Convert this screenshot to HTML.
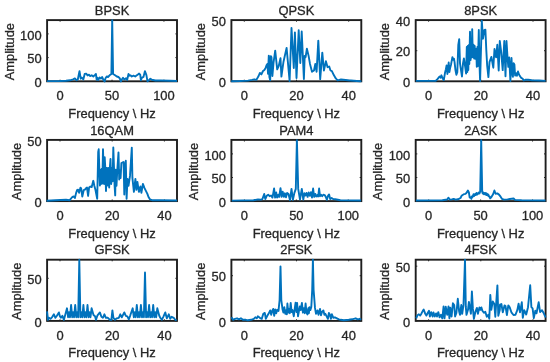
<!DOCTYPE html><html><head><meta charset="utf-8"><style>html,body{margin:0;padding:0;background:#fff;overflow:hidden}svg{display:block}text{font-family:"Liberation Sans",Arial,sans-serif;fill:#262626;stroke:#262626;stroke-width:0.3px}</style></head><body>
<svg width="550" height="362" viewBox="0 0 550 362">
<rect width="550" height="362" fill="#fff"/>
<rect x="47.10" y="20.10" width="129.90" height="61.20" fill="none" stroke="#1e1e1e" stroke-width="1.9"/>
<path d="M60.10 81.30v-1.6M60.10 20.10v1.6" stroke="#262626" stroke-width="1"/>
<text x="60.10" y="100.30" font-size="12.9" text-anchor="middle">0</text>
<path d="M112.02 81.30v-1.6M112.02 20.10v1.6" stroke="#262626" stroke-width="1"/>
<text x="112.02" y="100.30" font-size="12.9" text-anchor="middle">50</text>
<path d="M163.94 81.30v-1.6M163.94 20.10v1.6" stroke="#262626" stroke-width="1"/>
<text x="163.94" y="100.30" font-size="12.9" text-anchor="middle">100</text>
<path d="M47.10 81.30h1.6M177.00 81.30h-1.6" stroke="#262626" stroke-width="1"/>
<text x="41.60" y="86.90" font-size="12.9" text-anchor="end">0</text>
<path d="M47.10 57.60h1.6M177.00 57.60h-1.6" stroke="#262626" stroke-width="1"/>
<text x="41.60" y="63.20" font-size="12.9" text-anchor="end">50</text>
<path d="M47.10 33.90h1.6M177.00 33.90h-1.6" stroke="#262626" stroke-width="1"/>
<text x="41.60" y="39.50" font-size="12.9" text-anchor="end">100</text>
<polyline points="46.8,81.1 60.0,81.0 66.0,80.8 70.0,80.3 73.1,79.3 74.9,78.4 76.4,80.2 77.8,79.5 79.5,71.1 80.7,78.7 81.8,77.6 83.3,79.5 84.7,74.0 86.2,73.6 87.6,75.5 89.1,74.7 90.0,76.1 91.7,75.3 93.3,76.5 95.0,74.9 95.9,74.0 96.7,79.9 97.5,77.8 98.4,79.9 99.6,77.4 100.9,78.6 102.1,77.0 103.4,79.9 104.6,81.4 105.5,78.2 106.7,76.5 108.0,77.0 109.6,75.3 111.4,74.0 112.2,20.1 113.1,74.0 115.1,75.3 116.8,76.5 118.4,77.0 119.7,78.2 120.9,81.4 121.8,79.5 123.0,77.8 124.3,79.5 126.0,78.2 127.2,79.9 128.5,74.0 129.3,75.7 130.6,75.3 131.8,76.5 133.5,75.7 135.2,76.5 136.5,75.5 138.0,74.4 139.1,73.6 140.2,74.7 140.9,80.2 142.0,77.6 143.5,76.9 144.9,71.1 146.4,75.1 147.5,81.3 148.9,80.2 150.4,78.7 151.8,79.8 155.5,80.5 160.5,80.5 170.0,80.8 177.0,81.0" fill="none" stroke="#0072BD" stroke-width="1.9" stroke-linejoin="round"/>
<text x="112.05" y="14.70" font-size="12.9" text-anchor="middle">BPSK</text>
<text x="112.05" y="117.80" font-size="12.9" text-anchor="middle">Frequency \ Hz</text>
<text transform="translate(13.68 51.70) rotate(-90)" x="0" y="0" font-size="12.9" text-anchor="middle">Amplitude</text>
<rect x="231.40" y="20.10" width="129.90" height="61.20" fill="none" stroke="#1e1e1e" stroke-width="1.9"/>
<path d="M244.30 81.30v-1.6M244.30 20.10v1.6" stroke="#262626" stroke-width="1"/>
<text x="244.30" y="100.30" font-size="12.9" text-anchor="middle">0</text>
<path d="M296.50 81.30v-1.6M296.50 20.10v1.6" stroke="#262626" stroke-width="1"/>
<text x="296.50" y="100.30" font-size="12.9" text-anchor="middle">20</text>
<path d="M348.70 81.30v-1.6M348.70 20.10v1.6" stroke="#262626" stroke-width="1"/>
<text x="348.70" y="100.30" font-size="12.9" text-anchor="middle">40</text>
<path d="M231.40 81.30h1.6M361.30 81.30h-1.6" stroke="#262626" stroke-width="1"/>
<text x="225.90" y="86.90" font-size="12.9" text-anchor="end">0</text>
<path d="M231.40 20.10h1.6M361.30 20.10h-1.6" stroke="#262626" stroke-width="1"/>
<text x="225.90" y="25.70" font-size="12.9" text-anchor="end">50</text>
<polyline points="231.2,81.2 240.0,81.0 248.0,80.6 252.0,79.9 254.2,79.3 256.4,79.9 258.6,76.0 259.9,72.9 261.4,74.4 263.0,71.0 264.4,69.9 265.5,68.3 266.6,65.0 267.5,63.9 268.0,73.8 268.8,55.6 269.4,77.1 270.2,80.4 270.8,56.1 271.5,57.2 272.4,76.0 273.5,62.8 275.2,50.6 277.2,69.4 278.7,66.1 280.5,58.3 281.4,76.6 283.5,61.7 286.6,47.9 289.6,81.0 291.5,28.0 293.8,68.0 294.9,32.4 296.5,78.0 298.7,30.2 300.3,63.0 301.7,31.5 303.9,79.0 304.7,55.9 305.6,57.2 306.9,48.6 308.6,55.9 310.0,63.9 312.0,71.8 314.0,70.5 315.3,63.9 316.6,71.8 318.3,40.6 320.2,79.1 322.3,52.6 323.9,70.5 325.9,61.2 327.6,67.2 329.2,66.5 330.5,70.5 331.9,71.1 333.8,75.1 335.8,78.4 337.6,80.3 341.0,79.5 347.9,80.3 359.9,81.2 361.4,81.2" fill="none" stroke="#0072BD" stroke-width="1.9" stroke-linejoin="round"/>
<text x="296.35" y="14.70" font-size="12.9" text-anchor="middle">QPSK</text>
<text x="296.35" y="117.80" font-size="12.9" text-anchor="middle">Frequency \ Hz</text>
<text transform="translate(205.16 51.70) rotate(-90)" x="0" y="0" font-size="12.9" text-anchor="middle">Amplitude</text>
<rect x="415.70" y="20.10" width="129.90" height="61.20" fill="none" stroke="#1e1e1e" stroke-width="1.9"/>
<path d="M428.60 81.30v-1.6M428.60 20.10v1.6" stroke="#262626" stroke-width="1"/>
<text x="428.60" y="100.30" font-size="12.9" text-anchor="middle">0</text>
<path d="M480.80 81.30v-1.6M480.80 20.10v1.6" stroke="#262626" stroke-width="1"/>
<text x="480.80" y="100.30" font-size="12.9" text-anchor="middle">20</text>
<path d="M533.00 81.30v-1.6M533.00 20.10v1.6" stroke="#262626" stroke-width="1"/>
<text x="533.00" y="100.30" font-size="12.9" text-anchor="middle">40</text>
<path d="M415.70 81.30h1.6M545.60 81.30h-1.6" stroke="#262626" stroke-width="1"/>
<text x="410.20" y="86.90" font-size="12.9" text-anchor="end">0</text>
<path d="M415.70 50.70h1.6M545.60 50.70h-1.6" stroke="#262626" stroke-width="1"/>
<text x="410.20" y="56.30" font-size="12.9" text-anchor="end">20</text>
<path d="M415.70 20.10h1.6M545.60 20.10h-1.6" stroke="#262626" stroke-width="1"/>
<text x="410.20" y="25.70" font-size="12.9" text-anchor="end">40</text>
<polyline points="415.8,80.9 425.0,80.9 435.9,80.7 437.7,78.9 439.5,76.5 440.5,77.7 441.4,75.3 442.6,78.3 443.8,80.1 445.0,72.8 445.9,69.2 446.6,65.5 447.4,74.0 448.7,62.5 449.4,72.0 450.2,67.7 451.1,64.2 452.4,57.1 453.3,59.7 454.0,58.8 454.6,62.4 455.5,70.4 456.4,74.8 457.3,72.1 458.3,45.0 459.2,39.1 460.0,63.3 461.3,72.1 462.0,76.5 463.0,63.3 463.9,58.4 465.3,67.7 466.1,73.5 466.8,47.0 467.3,72.0 467.8,46.0 468.3,70.0 468.8,45.0 469.3,64.0 470.0,31.8 470.6,60.0 471.2,45.0 471.7,57.5 472.2,29.1 472.8,57.0 473.5,44.6 474.1,58.5 474.7,46.0 475.3,58.8 476.2,49.0 476.8,66.8 477.4,47.0 477.9,66.0 478.8,30.0 479.3,58.8 480.1,81.0 481.8,20.8 483.0,38.7 484.3,30.2 485.4,29.7 486.3,50.0 487.2,66.0 488.4,77.1 489.5,62.1 491.4,56.9 493.3,67.7 494.5,49.0 496.1,57.4 497.3,44.8 498.7,70.5 499.8,41.0 501.2,52.0 502.7,70.1 504.3,41.0 505.5,76.2 506.5,41.0 507.5,57.4 508.3,66.8 509.2,57.4 510.4,81.0 511.5,58.0 512.2,72.5 512.9,76.9 513.6,63.1 514.4,64.5 515.1,75.5 516.2,73.3 516.9,75.8 518.0,71.5 519.1,74.7 520.9,77.6 522.7,78.7 523.8,80.5 525.3,79.8 528.2,79.8 531.8,80.2 539.1,80.5 545.6,80.9" fill="none" stroke="#0072BD" stroke-width="1.9" stroke-linejoin="round"/>
<text x="480.65" y="14.70" font-size="12.9" text-anchor="middle">8PSK</text>
<text x="480.65" y="117.80" font-size="12.9" text-anchor="middle">Frequency \ Hz</text>
<text transform="translate(389.46 51.70) rotate(-90)" x="0" y="0" font-size="12.9" text-anchor="middle">Amplitude</text>
<rect x="47.10" y="139.90" width="129.90" height="61.20" fill="none" stroke="#1e1e1e" stroke-width="1.9"/>
<path d="M60.00 201.10v-1.6M60.00 139.90v1.6" stroke="#262626" stroke-width="1"/>
<text x="60.00" y="220.10" font-size="12.9" text-anchor="middle">0</text>
<path d="M112.20 201.10v-1.6M112.20 139.90v1.6" stroke="#262626" stroke-width="1"/>
<text x="112.20" y="220.10" font-size="12.9" text-anchor="middle">20</text>
<path d="M164.40 201.10v-1.6M164.40 139.90v1.6" stroke="#262626" stroke-width="1"/>
<text x="164.40" y="220.10" font-size="12.9" text-anchor="middle">40</text>
<path d="M47.10 201.10h1.6M177.00 201.10h-1.6" stroke="#262626" stroke-width="1"/>
<text x="41.60" y="206.70" font-size="12.9" text-anchor="end">0</text>
<path d="M47.10 139.90h1.6M177.00 139.90h-1.6" stroke="#262626" stroke-width="1"/>
<text x="41.60" y="145.50" font-size="12.9" text-anchor="end">50</text>
<polyline points="46.6,200.7 55.5,200.3 66.0,199.8 69.7,200.2 72.3,197.0 73.9,196.5 74.9,198.1 76.0,193.4 77.0,190.2 78.1,189.7 79.1,192.8 80.5,187.6 81.2,188.6 82.3,196.5 83.7,190.2 84.9,189.7 86.2,188.1 87.0,187.6 88.1,196.0 89.1,187.6 90.4,186.5 91.7,187.1 93.3,180.8 94.4,186.0 95.5,190.0 97.2,198.8 98.2,152.0 98.7,149.3 99.3,168.0 99.9,185.5 100.5,170.0 101.0,184.0 101.6,169.0 102.3,183.5 103.0,149.3 103.6,170.0 104.1,184.0 104.7,157.3 105.3,168.0 106.0,191.0 106.7,168.0 107.4,185.5 108.3,167.9 109.2,187.5 109.8,168.0 110.5,159.0 111.2,184.0 111.8,168.0 112.6,181.3 113.3,147.5 114.0,168.0 114.6,185.7 115.2,195.4 115.7,169.7 116.5,185.7 117.3,170.0 118.5,152.4 119.2,179.5 120.1,170.5 120.6,178.0 121.4,163.0 122.5,162.5 123.6,162.1 124.3,194.5 125.0,168.0 125.8,160.8 126.6,198.8 127.5,178.9 128.5,185.9 130.0,175.9 131.8,147.6 132.4,177.9 133.9,191.9 135.4,178.9 136.4,189.9 137.4,181.9 138.9,191.9 140.4,186.4 141.4,192.9 142.9,183.9 144.4,187.9 145.9,190.9 147.4,193.9 148.4,196.8 149.9,199.3 152.8,200.3 159.8,200.3 177.0,200.5" fill="none" stroke="#0072BD" stroke-width="1.9" stroke-linejoin="round"/>
<text x="112.05" y="134.50" font-size="12.9" text-anchor="middle">16QAM</text>
<text x="112.05" y="237.60" font-size="12.9" text-anchor="middle">Frequency \ Hz</text>
<text transform="translate(20.86 171.50) rotate(-90)" x="0" y="0" font-size="12.9" text-anchor="middle">Amplitude</text>
<rect x="231.40" y="139.90" width="129.90" height="61.20" fill="none" stroke="#1e1e1e" stroke-width="1.9"/>
<path d="M244.40 201.10v-1.6M244.40 139.90v1.6" stroke="#262626" stroke-width="1"/>
<text x="244.40" y="220.10" font-size="12.9" text-anchor="middle">0</text>
<path d="M296.32 201.10v-1.6M296.32 139.90v1.6" stroke="#262626" stroke-width="1"/>
<text x="296.32" y="220.10" font-size="12.9" text-anchor="middle">50</text>
<path d="M348.24 201.10v-1.6M348.24 139.90v1.6" stroke="#262626" stroke-width="1"/>
<text x="348.24" y="220.10" font-size="12.9" text-anchor="middle">100</text>
<path d="M231.40 201.10h1.6M361.30 201.10h-1.6" stroke="#262626" stroke-width="1"/>
<text x="225.90" y="206.70" font-size="12.9" text-anchor="end">0</text>
<path d="M231.40 177.50h1.6M361.30 177.50h-1.6" stroke="#262626" stroke-width="1"/>
<text x="225.90" y="183.10" font-size="12.9" text-anchor="end">50</text>
<path d="M231.40 153.90h1.6M361.30 153.90h-1.6" stroke="#262626" stroke-width="1"/>
<text x="225.90" y="159.50" font-size="12.9" text-anchor="end">100</text>
<polyline points="231.8,200.6 253.5,200.3 258.0,199.4 260.9,199.6 262.4,199.1 264.2,194.0 265.3,199.1 266.7,195.8 268.2,194.7 269.6,196.2 271.1,195.5 272.5,197.6 274.1,188.5 275.1,197.6 276.2,192.5 277.1,197.6 278.4,194.7 279.2,196.9 280.5,188.2 281.6,196.9 282.7,191.8 283.8,196.9 284.9,193.3 286.0,197.3 287.1,192.9 288.5,194.0 290.0,200.2 291.5,188.9 292.9,199.8 294.4,192.9 295.8,188.9 296.9,140.1 298.2,188.9 300.0,199.5 301.8,188.9 303.3,199.5 304.4,193.3 305.5,195.5 306.5,192.9 307.6,196.9 308.7,192.5 309.8,195.8 310.9,192.2 312.0,197.6 313.1,188.5 314.2,196.9 315.3,194.0 316.4,196.5 317.5,195.1 318.2,196.5 319.1,188.5 320.0,196.2 321.1,194.7 322.2,196.2 323.3,194.7 324.7,195.1 325.8,196.9 326.9,199.8 328.0,195.8 329.1,194.4 330.2,199.1 331.6,198.0 333.1,199.1 335.3,199.3 340.4,200.2 361.1,200.5" fill="none" stroke="#0072BD" stroke-width="1.9" stroke-linejoin="round"/>
<text x="296.35" y="134.50" font-size="12.9" text-anchor="middle">PAM4</text>
<text x="296.35" y="237.60" font-size="12.9" text-anchor="middle">Frequency \ Hz</text>
<text transform="translate(197.98 171.50) rotate(-90)" x="0" y="0" font-size="12.9" text-anchor="middle">Amplitude</text>
<rect x="415.70" y="139.90" width="129.90" height="61.20" fill="none" stroke="#1e1e1e" stroke-width="1.9"/>
<path d="M428.70 201.10v-1.6M428.70 139.90v1.6" stroke="#262626" stroke-width="1"/>
<text x="428.70" y="220.10" font-size="12.9" text-anchor="middle">0</text>
<path d="M480.62 201.10v-1.6M480.62 139.90v1.6" stroke="#262626" stroke-width="1"/>
<text x="480.62" y="220.10" font-size="12.9" text-anchor="middle">50</text>
<path d="M532.54 201.10v-1.6M532.54 139.90v1.6" stroke="#262626" stroke-width="1"/>
<text x="532.54" y="220.10" font-size="12.9" text-anchor="middle">100</text>
<path d="M415.70 201.10h1.6M545.60 201.10h-1.6" stroke="#262626" stroke-width="1"/>
<text x="410.20" y="206.70" font-size="12.9" text-anchor="end">0</text>
<path d="M415.70 177.50h1.6M545.60 177.50h-1.6" stroke="#262626" stroke-width="1"/>
<text x="410.20" y="183.10" font-size="12.9" text-anchor="end">50</text>
<path d="M415.70 153.90h1.6M545.60 153.90h-1.6" stroke="#262626" stroke-width="1"/>
<text x="410.20" y="159.50" font-size="12.9" text-anchor="end">100</text>
<polyline points="415.9,200.5 442.4,200.3 447.1,199.5 448.5,197.7 449.9,199.6 451.8,199.4 453.7,198.9 455.6,199.6 458.0,199.3 460.5,198.0 461.8,195.5 463.9,194.2 465.5,193.8 466.4,193.0 467.9,190.5 468.9,192.5 469.7,197.6 470.5,197.2 471.4,198.8 472.1,196.2 472.6,197.0 473.5,194.2 474.1,196.0 474.7,195.0 475.4,193.8 476.0,195.0 476.6,193.0 477.2,194.5 478.1,193.8 478.7,192.5 479.5,193.5 480.2,191.7 481.2,140.1 482.2,191.7 482.7,193.5 483.4,192.5 483.9,194.2 484.6,193.0 485.2,194.5 485.8,193.0 486.4,195.0 487.1,193.8 487.7,195.5 488.3,194.5 488.9,196.5 489.6,196.5 490.2,198.4 491.4,197.1 493.1,194.2 494.4,190.5 495.6,193.8 497.3,193.4 499.0,194.6 500.6,196.7 501.9,198.8 504.0,199.6 507.5,199.4 513.6,198.5 515.0,199.9 521.6,200.2 545.5,200.5" fill="none" stroke="#0072BD" stroke-width="1.9" stroke-linejoin="round"/>
<text x="480.65" y="134.50" font-size="12.9" text-anchor="middle">2ASK</text>
<text x="480.65" y="237.60" font-size="12.9" text-anchor="middle">Frequency \ Hz</text>
<text transform="translate(382.28 171.50) rotate(-90)" x="0" y="0" font-size="12.9" text-anchor="middle">Amplitude</text>
<rect x="47.10" y="259.70" width="129.90" height="61.20" fill="none" stroke="#1e1e1e" stroke-width="1.9"/>
<path d="M60.00 320.90v-1.6M60.00 259.70v1.6" stroke="#262626" stroke-width="1"/>
<text x="60.00" y="339.90" font-size="12.9" text-anchor="middle">0</text>
<path d="M112.20 320.90v-1.6M112.20 259.70v1.6" stroke="#262626" stroke-width="1"/>
<text x="112.20" y="339.90" font-size="12.9" text-anchor="middle">20</text>
<path d="M164.40 320.90v-1.6M164.40 259.70v1.6" stroke="#262626" stroke-width="1"/>
<text x="164.40" y="339.90" font-size="12.9" text-anchor="middle">40</text>
<path d="M47.10 320.90h1.6M177.00 320.90h-1.6" stroke="#262626" stroke-width="1"/>
<text x="41.60" y="326.50" font-size="12.9" text-anchor="end">0</text>
<path d="M47.10 278.30h1.6M177.00 278.30h-1.6" stroke="#262626" stroke-width="1"/>
<text x="41.60" y="283.90" font-size="12.9" text-anchor="end">50</text>
<polyline points="47.0,311.4 48.0,319.8 49.0,317.8 50.5,318.8 52.0,317.3 53.9,314.3 55.4,317.8 56.9,315.8 58.9,312.4 59.9,316.3 60.9,317.8 62.4,315.8 63.9,319.8 65.4,314.3 67.0,308.3 68.1,317.2 69.0,312.3 70.0,317.2 71.1,305.0 72.2,317.2 73.1,312.3 74.1,317.2 75.2,305.0 76.3,317.2 77.2,312.3 78.2,317.2 79.3,259.8 80.4,317.2 81.3,312.3 82.3,317.2 83.4,305.0 84.5,317.2 85.4,312.3 86.4,317.2 87.5,305.0 88.6,317.2 89.5,312.3 90.5,317.2 91.6,308.3 93.5,315.0 95.0,316.3 96.0,319.8 97.5,315.3 99.9,312.4 101.4,316.8 102.9,317.8 104.4,314.3 105.9,317.8 107.9,317.8 109.9,319.8 111.4,319.8 112.4,310.4 113.4,317.8 114.9,319.8 116.8,318.3 118.8,317.8 120.3,314.3 121.8,317.3 124.3,312.4 125.8,315.8 127.3,316.3 128.8,319.3 130.3,315.3 132.7,308.3 133.8,317.2 134.8,312.3 135.7,317.2 136.8,305.0 137.9,317.2 138.9,312.3 139.8,317.2 140.9,305.0 142.0,317.2 143.0,312.3 143.9,317.2 145.0,272.4 146.1,317.2 147.1,312.3 148.0,317.2 149.1,305.0 150.2,317.2 151.2,312.3 152.1,317.2 153.2,305.0 154.3,317.2 155.2,312.3 156.2,317.2 157.3,308.3 159.2,315.5 160.3,317.8 161.8,319.8 163.3,316.8 165.3,312.4 166.8,318.3 168.8,314.3 170.2,318.8 171.7,316.8 173.7,317.8 175.2,319.8 176.7,320.3" fill="none" stroke="#0072BD" stroke-width="1.9" stroke-linejoin="round"/>
<text x="112.05" y="254.30" font-size="12.9" text-anchor="middle">GFSK</text>
<text x="112.05" y="357.40" font-size="12.9" text-anchor="middle">Frequency \ Hz</text>
<text transform="translate(20.86 291.30) rotate(-90)" x="0" y="0" font-size="12.9" text-anchor="middle">Amplitude</text>
<rect x="231.40" y="259.70" width="129.90" height="61.20" fill="none" stroke="#1e1e1e" stroke-width="1.9"/>
<path d="M244.30 320.90v-1.6M244.30 259.70v1.6" stroke="#262626" stroke-width="1"/>
<text x="244.30" y="339.90" font-size="12.9" text-anchor="middle">0</text>
<path d="M296.50 320.90v-1.6M296.50 259.70v1.6" stroke="#262626" stroke-width="1"/>
<text x="296.50" y="339.90" font-size="12.9" text-anchor="middle">20</text>
<path d="M348.70 320.90v-1.6M348.70 259.70v1.6" stroke="#262626" stroke-width="1"/>
<text x="348.70" y="339.90" font-size="12.9" text-anchor="middle">40</text>
<path d="M231.40 320.90h1.6M361.30 320.90h-1.6" stroke="#262626" stroke-width="1"/>
<text x="225.90" y="326.50" font-size="12.9" text-anchor="end">0</text>
<path d="M231.40 275.70h1.6M361.30 275.70h-1.6" stroke="#262626" stroke-width="1"/>
<text x="225.90" y="281.30" font-size="12.9" text-anchor="end">50</text>
<polyline points="231.5,317.3 233.0,319.8 235.0,318.8 237.0,318.3 238.9,319.3 240.9,318.3 242.9,319.8 245.9,319.8 247.9,320.3 250.9,319.8 253.8,318.8 255.3,317.3 256.8,318.3 257.8,316.3 259.8,317.8 261.8,318.8 263.3,313.8 264.8,312.9 265.8,318.8 267.3,315.8 268.8,313.3 270.2,310.4 271.2,314.8 272.2,310.9 273.2,308.9 274.2,315.8 275.2,309.4 276.2,313.3 277.2,309.8 278.5,310.9 279.6,300.0 280.5,266.4 281.3,300.0 282.5,309.2 283.4,312.6 284.3,307.1 285.3,313.8 286.2,310.1 286.8,314.4 287.4,303.5 288.3,312.6 289.2,308.9 289.8,313.2 290.7,302.9 291.6,312.0 292.5,310.1 293.8,316.2 294.7,308.9 295.6,302.6 296.5,312.0 297.1,302.9 298.0,316.2 298.9,311.4 299.8,306.5 300.7,310.1 301.9,302.9 302.9,312.6 303.8,308.3 304.7,313.2 305.6,303.5 306.5,312.6 307.4,314.4 308.3,308.3 308.9,313.2 309.5,307.1 310.4,310.1 311.3,307.0 312.2,290.0 312.9,259.6 313.6,290.0 315.0,307.9 316.0,313.8 317.5,310.4 318.5,314.8 320.0,308.9 321.0,315.3 322.0,311.9 323.4,310.4 324.4,314.8 325.4,313.8 326.4,315.8 327.9,318.8 328.9,312.9 329.9,314.8 330.9,318.8 331.9,314.3 333.4,317.8 334.9,317.3 336.9,318.3 338.9,319.3 340.8,319.8 343.8,320.3 348.8,319.8 351.8,319.3 353.8,318.8 355.7,318.3 357.7,319.3 359.7,318.8 361.2,319.8" fill="none" stroke="#0072BD" stroke-width="1.9" stroke-linejoin="round"/>
<text x="296.35" y="254.30" font-size="12.9" text-anchor="middle">2FSK</text>
<text x="296.35" y="357.40" font-size="12.9" text-anchor="middle">Frequency \ Hz</text>
<text transform="translate(205.16 291.30) rotate(-90)" x="0" y="0" font-size="12.9" text-anchor="middle">Amplitude</text>
<rect x="415.70" y="259.70" width="129.90" height="61.20" fill="none" stroke="#1e1e1e" stroke-width="1.9"/>
<path d="M428.60 320.90v-1.6M428.60 259.70v1.6" stroke="#262626" stroke-width="1"/>
<text x="428.60" y="339.90" font-size="12.9" text-anchor="middle">0</text>
<path d="M480.80 320.90v-1.6M480.80 259.70v1.6" stroke="#262626" stroke-width="1"/>
<text x="480.80" y="339.90" font-size="12.9" text-anchor="middle">20</text>
<path d="M533.00 320.90v-1.6M533.00 259.70v1.6" stroke="#262626" stroke-width="1"/>
<text x="533.00" y="339.90" font-size="12.9" text-anchor="middle">40</text>
<path d="M415.70 320.90h1.6M545.60 320.90h-1.6" stroke="#262626" stroke-width="1"/>
<text x="410.20" y="326.50" font-size="12.9" text-anchor="end">0</text>
<path d="M415.70 266.20h1.6M545.60 266.20h-1.6" stroke="#262626" stroke-width="1"/>
<text x="410.20" y="271.80" font-size="12.9" text-anchor="end">50</text>
<polyline points="416.2,318.3 417.5,315.2 418.9,314.3 420.2,315.6 421.5,313.4 422.8,310.8 423.7,309.5 425.1,313.4 426.4,315.6 427.7,313.0 429.0,310.8 429.9,316.5 431.2,312.1 432.6,316.5 433.5,312.5 434.8,316.5 436.1,313.4 437.0,316.5 438.3,312.1 439.6,317.4 441.0,314.8 442.3,318.3 443.6,306.4 444.5,318.3 445.8,306.8 447.2,314.8 448.5,306.4 449.4,318.3 450.3,307.7 451.6,316.5 452.9,303.3 454.2,305.0 455.1,316.5 456.4,313.0 457.8,298.8 459.1,311.2 460.0,314.8 461.3,305.0 462.2,313.8 463.5,304.9 465.0,259.7 465.8,306.9 466.5,314.8 468.0,309.8 468.9,301.9 469.9,307.9 470.9,313.8 471.9,291.5 472.9,308.9 473.9,318.8 475.4,311.8 476.9,307.9 477.9,313.8 479.4,307.4 480.4,309.8 481.4,307.4 482.4,310.8 483.9,312.8 485.3,311.8 486.8,316.8 488.3,314.8 489.3,318.8 490.3,294.9 491.3,309.8 492.8,301.4 494.3,303.9 495.3,316.8 497.4,285.4 498.3,315.8 499.8,309.8 500.0,304.7 501.4,304.0 502.8,312.3 504.5,305.4 505.5,306.0 506.9,315.0 508.3,305.4 509.7,307.4 511.4,312.3 513.5,315.0 515.5,314.7 517.3,310.2 518.6,303.6 520.0,312.3 521.8,302.3 522.8,317.8 524.2,310.2 526.2,314.5 528.0,307.2 530.2,285.3 531.4,307.2 532.6,308.4 533.8,318.1 535.3,310.8 536.5,313.3 538.7,302.3 540.1,312.1 542.0,310.2 543.8,313.3 545.6,317.5" fill="none" stroke="#0072BD" stroke-width="1.9" stroke-linejoin="round"/>
<text x="480.65" y="254.30" font-size="12.9" text-anchor="middle">4FSK</text>
<text x="480.65" y="357.40" font-size="12.9" text-anchor="middle">Frequency \ Hz</text>
<text transform="translate(389.46 291.30) rotate(-90)" x="0" y="0" font-size="12.9" text-anchor="middle">Amplitude</text>
</svg></body></html>
